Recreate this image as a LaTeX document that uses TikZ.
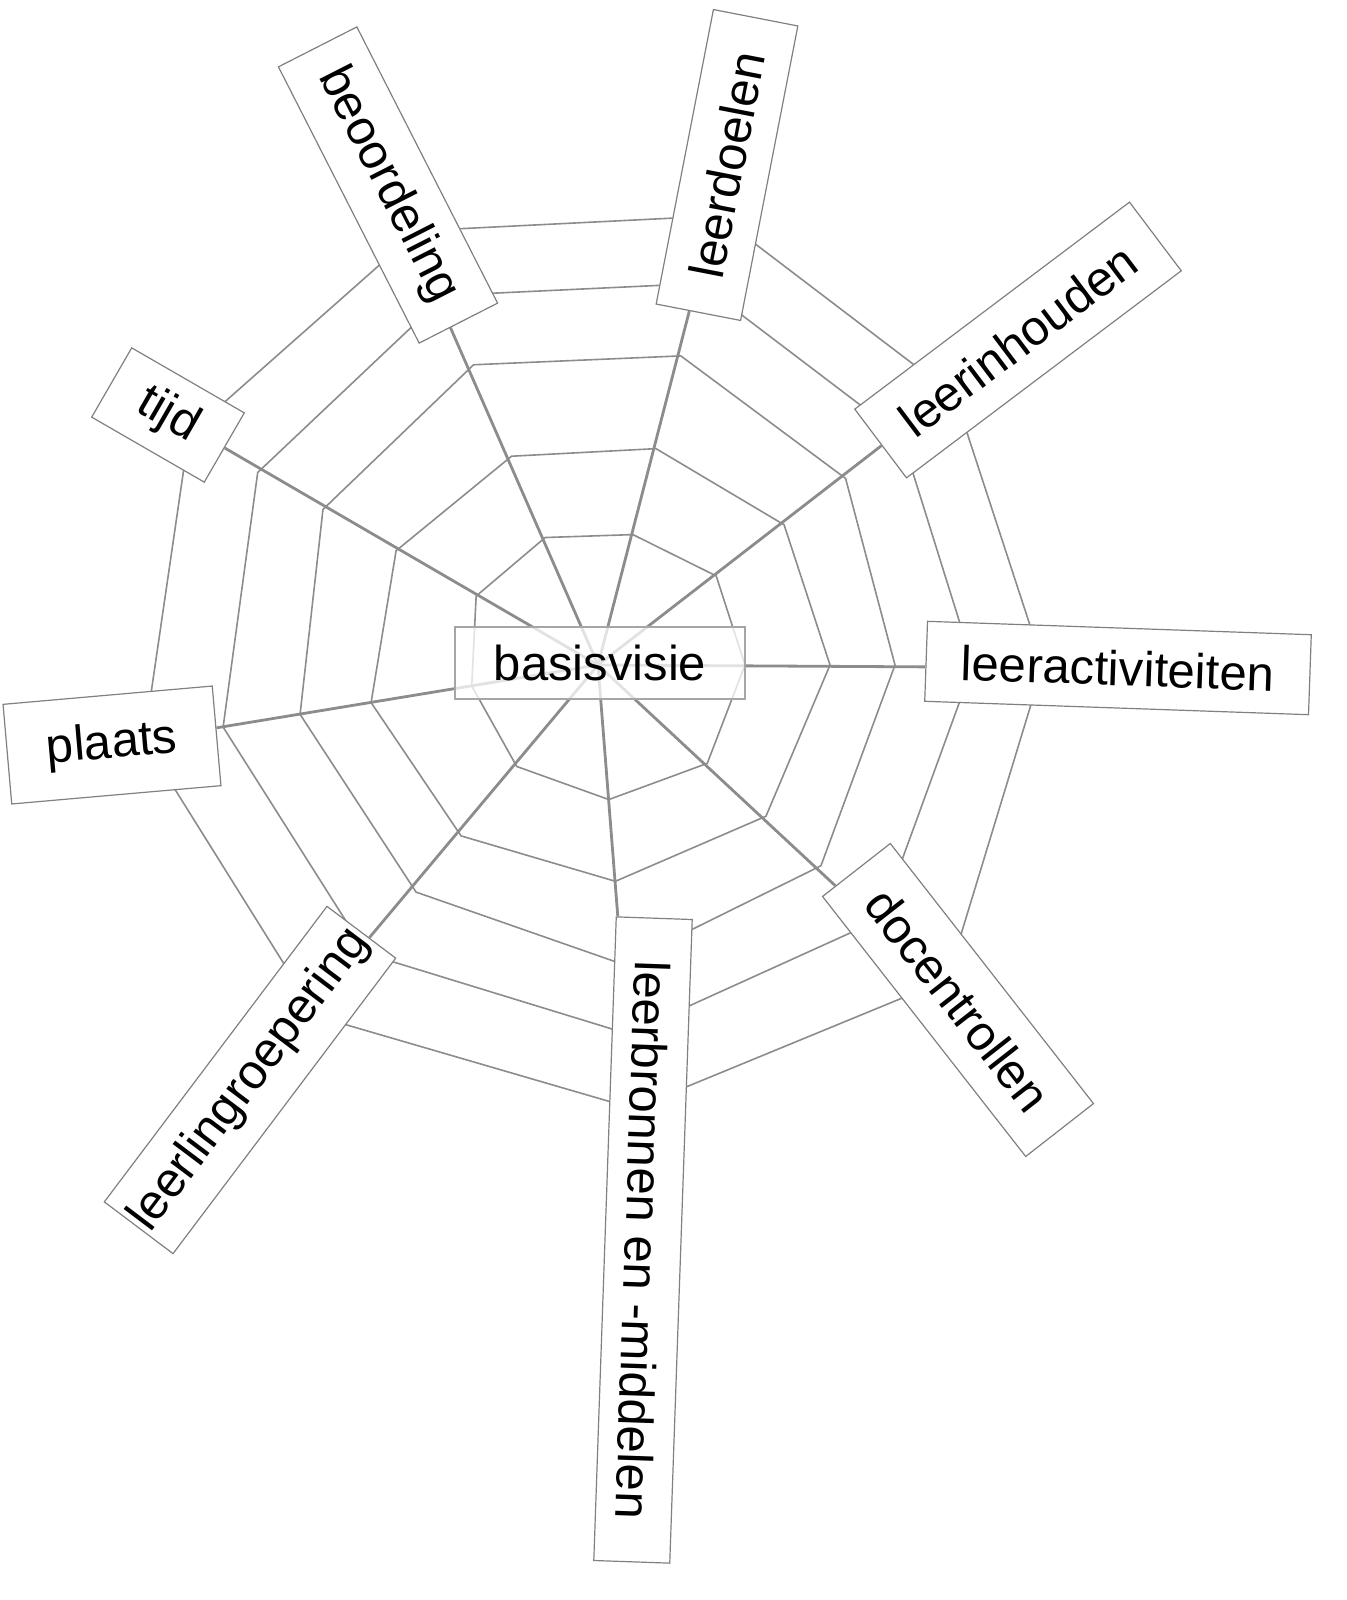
\documentclass[tikz,border=0pt]{standalone}
\usepackage{fontspec}
\setmainfont{Liberation Sans}
\usetikzlibrary{calc}
\begin{document}
\begin{tikzpicture}[x=0.5pt,y=-0.5pt,
  ring/.style={draw=black!45,line width=0.8pt},
  spoke/.style={draw=black!45,line width=1.4pt},
  lab/.style={draw=black!50,fill=white,line width=0.6pt,inner sep=0pt,font=\fontsize{24.5}{27}\selectfont,anchor=center}]
\useasboundingbox (0,0) rectangle (1346,1600);
\coordinate (C) at (598,665);
\def\spokes{1/-112.5/138/226/325/400/470,2/-75/135/224/320/395/465,3/-37/148/233/310/380/447,4/0/147/232/297/375/445,5/42/147/226/300/380/470,6/85.4/135/217/300/370/445,7/128.7/130/219/291/370/450,8/170.6/128/230/302/380/460,9/-150.5/140/232/316/391/470}
\foreach \i/\a/\ra/\rb/\rc/\rd/\re in \spokes {
  \coordinate (p\i-1) at ($(C)+(\a:\ra)$);
  \coordinate (p\i-2) at ($(C)+(\a:\rb)$);
  \coordinate (p\i-3) at ($(C)+(\a:\rc)$);
  \coordinate (p\i-4) at ($(C)+(\a:\rd)$);
  \coordinate (p\i-5) at ($(C)+(\a:\re)$);
}
\foreach \k in {1,...,5}{
  \draw[ring] (p1-\k)--(p2-\k)--(p3-\k)--(p4-\k)--(p5-\k)--(p6-\k)--(p7-\k)--(p8-\k)--(p9-\k)--cycle;
}
\node[lab,minimum width=155pt,minimum height=44pt,rotate=-63] (beo) at (388,185) {beoordeling};
\node[lab,minimum width=150pt,minimum height=43pt,rotate=79] (ldo) at (727,165) {leerdoelen};
\node[lab,minimum width=172pt,minimum height=43pt,rotate=37] (lin) at (1018,340) {leerinhouden};
\node[lab,minimum width=192pt,minimum height=40pt,rotate=-2] (lac) at (1118,668) {leeractiviteiten};
\node[lab,minimum width=165pt,minimum height=43pt,rotate=-52] (doc) at (958,1000) {docentrollen};
\node[lab,minimum width=322pt,minimum height=38pt,rotate=-92] (lbr) at (643,1240) {leerbronnen en -middelen};
\node[lab,minimum width=185pt,minimum height=43pt,rotate=53] (llg) at (250,1080) {leerlingroepering};
\node[lab,minimum width=105pt,minimum height=50pt,rotate=5] (pla) at (112,745) {plaats};
\node[lab,minimum width=65pt,minimum height=40pt,rotate=-30] (tij) at (168,415) {tijd};
\foreach \n in {beo,ldo,lin,lac,doc,lbr,llg,pla,tij}{
  \draw[spoke] (C) -- (\n);
}
\node[lab,draw=black!35,fill=white,fill opacity=0.75,text opacity=1,minimum width=145pt,minimum height=36pt] (hub) at (600,663) {basisvisie};
\end{tikzpicture}
\end{document}
